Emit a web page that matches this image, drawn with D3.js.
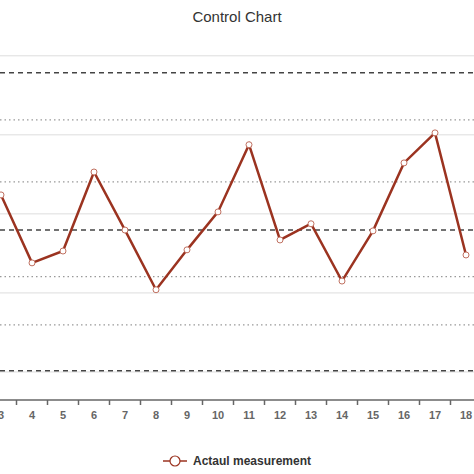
<!DOCTYPE html>
<html><head><meta charset="utf-8">
<script src="https://cdn.jsdelivr.net/npm/d3@7"></script>
<style>body{margin:0;background:#fff}svg{display:block}</style></head>
<body><svg id="c" width="474" height="474"></svg>
<script>
const categories = [3,4,5,6,7,8,9,10,11,12,13,14,15,16,17,18];
const measurement = [64.8,47.6,50.6,70.6,55.9,40.8,50.9,60.5,77.5,53.4,57.5,43.0,55.7,72.9,80.5,49.6];
const gridValues = [20,40,60,80,100];
const dashedLines = [95.7,55.9,20.3];
const dottedLines = [83.8,68.1,44.1,31.9];

const svg = d3.select("#c");
const x = d3.scalePoint().domain(categories).range([1,466]);
const y = d3.scaleLinear().domain([12.9,104]).range([400,40]);
const step = x.step();

svg.append("text").attr("x",237).attr("y",22).attr("text-anchor","middle")
  .attr("font-family","Liberation Sans, Arial").attr("font-size",15).attr("fill","#333").text("Control Chart");

svg.selectAll(".g").data(gridValues).join("line")
  .attr("x1",0).attr("x2",474).attr("y1",d=>y(d)).attr("y2",d=>y(d))
  .attr("stroke","#ddd").attr("stroke-width",1);
svg.selectAll(".dt").data(dottedLines).join("line")
  .attr("x1",0).attr("x2",474).attr("y1",d=>y(d)).attr("y2",d=>y(d))
  .attr("stroke","#999").attr("stroke-width",1.2).attr("stroke-dasharray","1.5,3");
svg.selectAll(".ds").data(dashedLines).join("line")
  .attr("x1",0).attr("x2",474).attr("y1",d=>y(d)).attr("y2",d=>y(d))
  .attr("stroke","#444").attr("stroke-width",1.5).attr("stroke-dasharray","5,4");

// axis
const ax = svg.append("g").attr("transform","translate(0,400)");
ax.append("line").attr("x1",0).attr("x2",474).attr("stroke","#666").attr("stroke-width",1.5);
ax.selectAll(".t").data(categories).join("line")
  .attr("x1",d=>x(d)+step/2).attr("x2",d=>x(d)+step/2).attr("y1",0).attr("y2",5)
  .attr("stroke","#666").attr("stroke-width",1.5);
ax.selectAll(".l").data(categories).join("text")
  .attr("x",d=>x(d)).attr("y",19).attr("text-anchor","middle")
  .attr("font-family","Liberation Sans, Arial").attr("font-size",11).attr("font-weight","bold")
  .attr("fill","#666").text(d=>d);

const color = "#9b3320";
svg.append("path").datum(categories.map((c,i)=>[x(c),y(measurement[i])]))
  .attr("d",d3.line()).attr("fill","none").attr("stroke",color).attr("stroke-width",2.5);
svg.selectAll(".p").data(categories).join("circle")
  .attr("cx",d=>x(d)).attr("cy",(d,i)=>y(measurement[i])).attr("r",3)
  .attr("fill","#fff").attr("stroke","#c07060").attr("stroke-width",1);

// legend
const lg = svg.append("g").attr("transform","translate(163,461)");
lg.append("line").attr("x1",0).attr("x2",24).attr("stroke",color).attr("stroke-width",1.5);
lg.append("circle").attr("cx",12).attr("r",5).attr("fill","#fff").attr("stroke",color).attr("stroke-width",1.2);
lg.append("text").attr("x",30).attr("y",4).attr("font-family","Liberation Sans, Arial")
  .attr("font-size",12).attr("font-weight","bold").attr("fill","#333").text("Actaul measurement");
</script></body></html>
